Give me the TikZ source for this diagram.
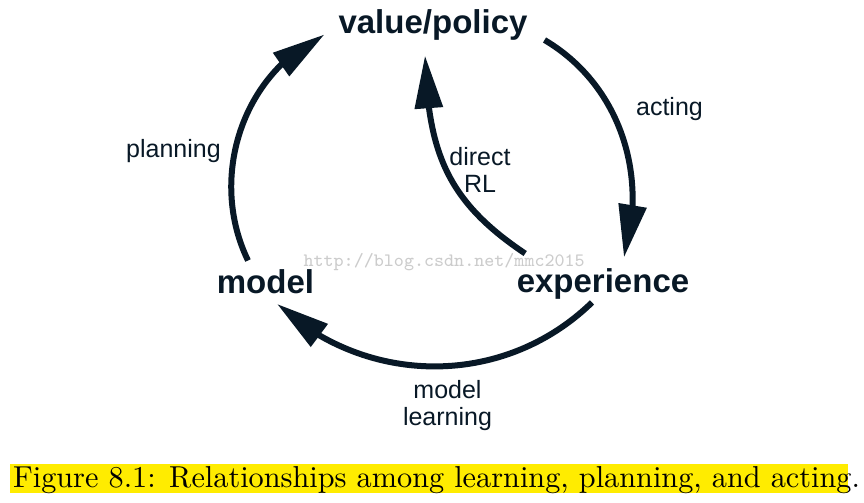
\documentclass[tikz,border=0pt]{standalone}
\usepackage{fontspec}
\usepackage{tikz}
\usetikzlibrary{arrows.meta,bending,calc}
\newfontfamily\helv{Liberation Sans}
\definecolor{ink}{RGB}{8,24,38}
\definecolor{marker}{RGB}{255,236,0}
\tikzstyle{cyclearrow}=[line width=2.1pt, draw=ink, -{Triangle[length=18.5pt,width=9.5pt,flex]}]
\tikzstyle{boldlabel}=[inner sep=0pt, text=ink, font=\helv\bfseries\fontsize{11.55}{13}\selectfont]
\tikzstyle{smalllabel}=[inner sep=0pt, text=ink, align=center, font=\helv\fontsize{8.75}{9.45}\selectfont]

\begin{document}
\begin{tikzpicture}[x=0.35pt, y=0.35pt]
	\useasboundingbox (0,0) rectangle (864,-502);
	\node[boldlabel, anchor=base] (vp) at (433,-33) {value/policy};
	\node[boldlabel, anchor=base] (model) at (265.5,-293) {model};
	\node[boldlabel, anchor=base] (exp) at (603,-292) {experience};
	\draw[cyclearrow] ([shift={(16.5,-7)}]vp.base east) .. controls (619,-84) and (649,-174) .. ([shift={(21,10)}]exp.north);
	\draw[cyclearrow] ([shift={(9,14)}]exp.north west) .. controls (445,-200) and (428,-150) .. ([shift={(-8,-15)}]vp.south);
	\draw[cyclearrow] ([shift={(-17.5,8)}]model.north) .. controls (208,-178) and (242,-73) .. ([shift={(-13.5,-10)}]vp.west);
	\draw[cyclearrow] ([shift={(-11,-3)}]exp.south) .. controls (504,-388) and (366,-387) .. ([shift={(11.5,-10)}]model.south);
	\node[smalllabel, anchor=base] (acting) at (669.5,-115) {acting};
	\node[smalllabel, anchor=base] (planning) at (173.5,-157) {planning};
	\node[smalllabel, anchor=north] (direct) at (480,-147) {direct\\RL};
	\node[smalllabel, anchor=north] (learning) at (447.5,-380) {model\\learning};
	\node[anchor=base west, inner sep=0pt, text=black!20, font=\ttfamily\fontsize{6.62}{8}\selectfont] (mark) at (303,-266) {http://blog.csdn.net/mmc2015};
	\fill[marker] (10,-464) rectangle (848,-493);
	\node[anchor=base west, inner sep=0pt, font=\fontsize{10.6}{12}\selectfont] (caption) at (12.5,-487) {Figure 8.1: Relationships among learning, planning, and acting.};
\end{tikzpicture}
\end{document}
